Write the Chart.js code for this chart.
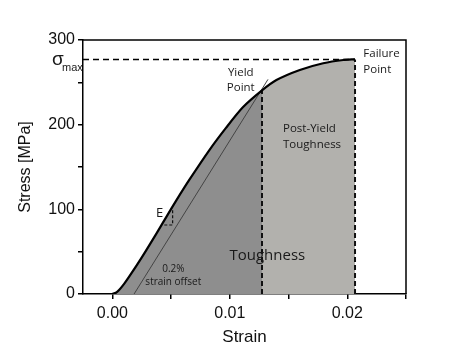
<!DOCTYPE html>
<html>
<head>
<meta charset="utf-8">
<script src="https://cdn.jsdelivr.net/npm/chart.js@4"></script>
<style>
html,body{margin:0;padding:0;background:#fff;}
#c{display:block;}
</style>
</head>
<body>
<canvas id="c" width="474" height="355"></canvas>
<script>
// ---- data ----
const strain = [0, 0.0003, 0.00057, 0.001, 0.00143, 0.00256, 0.00371, 0.00442, 0.00542, 0.00656, 0.00826, 0.00969, 0.01111, 0.01274, 0.01397, 0.01596, 0.01795, 0.01966, 0.02066];
const stress = [0, 1.5, 4.7, 12, 20.4, 44.5, 70.5, 87, 110, 135, 170, 196.5, 220.5, 240.5, 252.7, 264.6, 272.5, 276.4, 277.2];
const yieldStrain = 0.01274;
const yieldStress = 240.5;
const failureStrain = 0.02066;
const sigmaMax = 277;
const offsetStrain = [0.00185, 0.01325];
const offsetStress = [0, 253.5];
const slopeStrain = [0.00442, 0.00513, 0.00513];
const slopeStress = [81.5, 81.5, 99.2];
const xTicks = [0, 0.005, 0.01, 0.015, 0.02, 0.025];
const xLabels = [0, 0.01, 0.02];
const yTicks = [0, 50, 100, 150, 200, 250, 300];
const yLabels = [0, 100, 200, 300];

const pts = strain.map((s, i) => ({x: s, y: stress[i]}));
const elastic = pts.filter(p => p.x <= yieldStrain);
const postYield = pts.filter(p => p.x >= yieldStrain);

const labels = [
  {t: 'Yield', x: 0.01093, y: 261.4, f: '11.5px "Open Sans"', a: 'center'},
  {t: 'Point', x: 0.01093, y: 243.2, f: '11.5px "Open Sans"', a: 'center'},
  {t: 'Failure', x: 0.02137, y: 283.5, f: '11.5px "Open Sans"', a: 'left'},
  {t: 'Point', x: 0.02137, y: 264.6, f: '11.5px "Open Sans"', a: 'left'},
  {t: 'Post-Yield', x: 0.01453, y: 194.9, f: '11.5px "Open Sans"', a: 'left'},
  {t: 'Toughness', x: 0.01453, y: 176.8, f: '11.5px "Open Sans"', a: 'left'},
  {t: 'Toughness', x: 0.00997, y: 44.9, f: '15px "Open Sans"', a: 'left'},
  {t: '0.2%', x: 0.00519, y: 29.2, f: '10px "Open Sans"', a: 'center'},
  {t: 'strain offset', x: 0.00519, y: 13.4, f: '10px "Open Sans"', a: 'center'},
  {t: 'E', x: 0.00403, y: 95.3, f: '13px "Open Sans"', a: 'center'}
];

const annot = {
  id: 'annot',
  afterDatasetsDraw(chart) {
    const {ctx, chartArea, scales: {x, y}} = chart;
    ctx.save();
    ctx.fillStyle = '#1a1a1a';
    ctx.textBaseline = 'middle';
    labels.forEach(l => {
      ctx.font = l.f;
      ctx.textAlign = l.a;
      ctx.fillText(l.t, x.getPixelForValue(l.x), y.getPixelForValue(l.y));
    });
    // sigma max label
    const py = y.getPixelForValue(sigmaMax);
    ctx.textAlign = 'left';
    ctx.font = '19px "Liberation Sans", Arial, sans-serif';
    ctx.fillText('σ', chartArea.left - 31, py);
    ctx.font = '11px "Liberation Sans", Arial, sans-serif';
    ctx.fillText('max', chartArea.left - 21, py + 8);
    ctx.restore();
  },
  afterDraw(chart) {
    const {ctx, chartArea: a} = chart;
    ctx.save();
    ctx.strokeStyle = '#000';
    ctx.lineWidth = 1.5;
    ctx.beginPath();
    ctx.moveTo(a.left, a.top);
    ctx.lineTo(a.right, a.top);
    ctx.lineTo(a.right, a.bottom);
    ctx.stroke();
    ctx.restore();
  }
};

const tickFont = {family: '"Liberation Sans", Arial, sans-serif', size: 16};

// Chart.js draws dataset 0 on top, so lines come first and fills last.
new Chart(document.getElementById('c'), {
  type: 'scatter',
  data: {
    datasets: [
      {data: pts, showLine: true, borderColor: '#000', borderWidth: 2.2, pointRadius: 0, tension: 0.25},
      {data: slopeStrain.map((s, i) => ({x: s, y: slopeStress[i]})), showLine: true, borderColor: '#111', borderWidth: 1.2, borderDash: [3, 2], pointRadius: 0},
      {data: [{x: yieldStrain, y: 0}, {x: yieldStrain, y: yieldStress}], showLine: true, borderColor: '#111', borderWidth: 2, borderDash: [5, 3], pointRadius: 0},
      {data: [{x: failureStrain, y: 0}, {x: failureStrain, y: sigmaMax}], showLine: true, borderColor: '#111', borderWidth: 2, borderDash: [5, 3], pointRadius: 0},
      {data: [{x: -0.0025, y: sigmaMax}, {x: failureStrain, y: sigmaMax}], showLine: true, borderColor: '#000', borderWidth: 1.5, borderDash: [6, 4], pointRadius: 0},
      {data: offsetStrain.map((s, i) => ({x: s, y: offsetStress[i]})), showLine: true, borderColor: '#444', borderWidth: 1, pointRadius: 0},
      {data: postYield, showLine: true, fill: 'origin', backgroundColor: '#b2b1ad', borderWidth: 0, pointRadius: 0, tension: 0.25},
      {data: elastic, showLine: true, fill: 'origin', backgroundColor: '#8e8e8e', borderWidth: 0, pointRadius: 0, tension: 0.25}
    ]
  },
  options: {
    responsive: false,
    animation: false,
    layout: {padding: {top: 40, right: 68, left: 0, bottom: 0}},
    plugins: {legend: {display: false}, tooltip: {enabled: false}},
    scales: {
      x: {
        type: 'linear', min: -0.0025, max: 0.025,
        afterBuildTicks: s => { s.ticks = xTicks.map(v => ({value: v})); },
        afterFit: s => { s.height = 61; },
        border: {color: '#000', width: 1.5},
        grid: {drawOnChartArea: false, drawTicks: true, tickLength: 5, color: '#000', lineWidth: 1.5},
        ticks: {
          font: tickFont, color: '#111', padding: 5, maxRotation: 0,
          callback: v => xLabels.some(l => Math.abs(l - v) < 1e-9) ? v.toFixed(2) : ''
        },
        title: {display: true, text: 'Strain', font: {family: '"Liberation Sans", Arial, sans-serif', size: 17}, color: '#111', padding: {top: 0, bottom: 7}}
      },
      y: {
        type: 'linear', min: 0, max: 300,
        afterBuildTicks: s => { s.ticks = yTicks.map(v => ({value: v})); },
        afterFit: s => { s.width = 83; },
        border: {color: '#000', width: 1.5},
        grid: {drawOnChartArea: false, drawTicks: true, tickLength: 5, color: '#000', lineWidth: 1.5},
        ticks: {
          font: tickFont, color: '#111', padding: 3,
          callback: v => yLabels.includes(v) ? String(v) : ''
        },
        title: {display: true, text: 'Stress [MPa]', font: {family: '"Liberation Sans", Arial, sans-serif', size: 16}, color: '#111', padding: {top: 16, bottom: 0}}
      }
    }
  },
  plugins: [annot]
});
</script>
</body>
</html>
